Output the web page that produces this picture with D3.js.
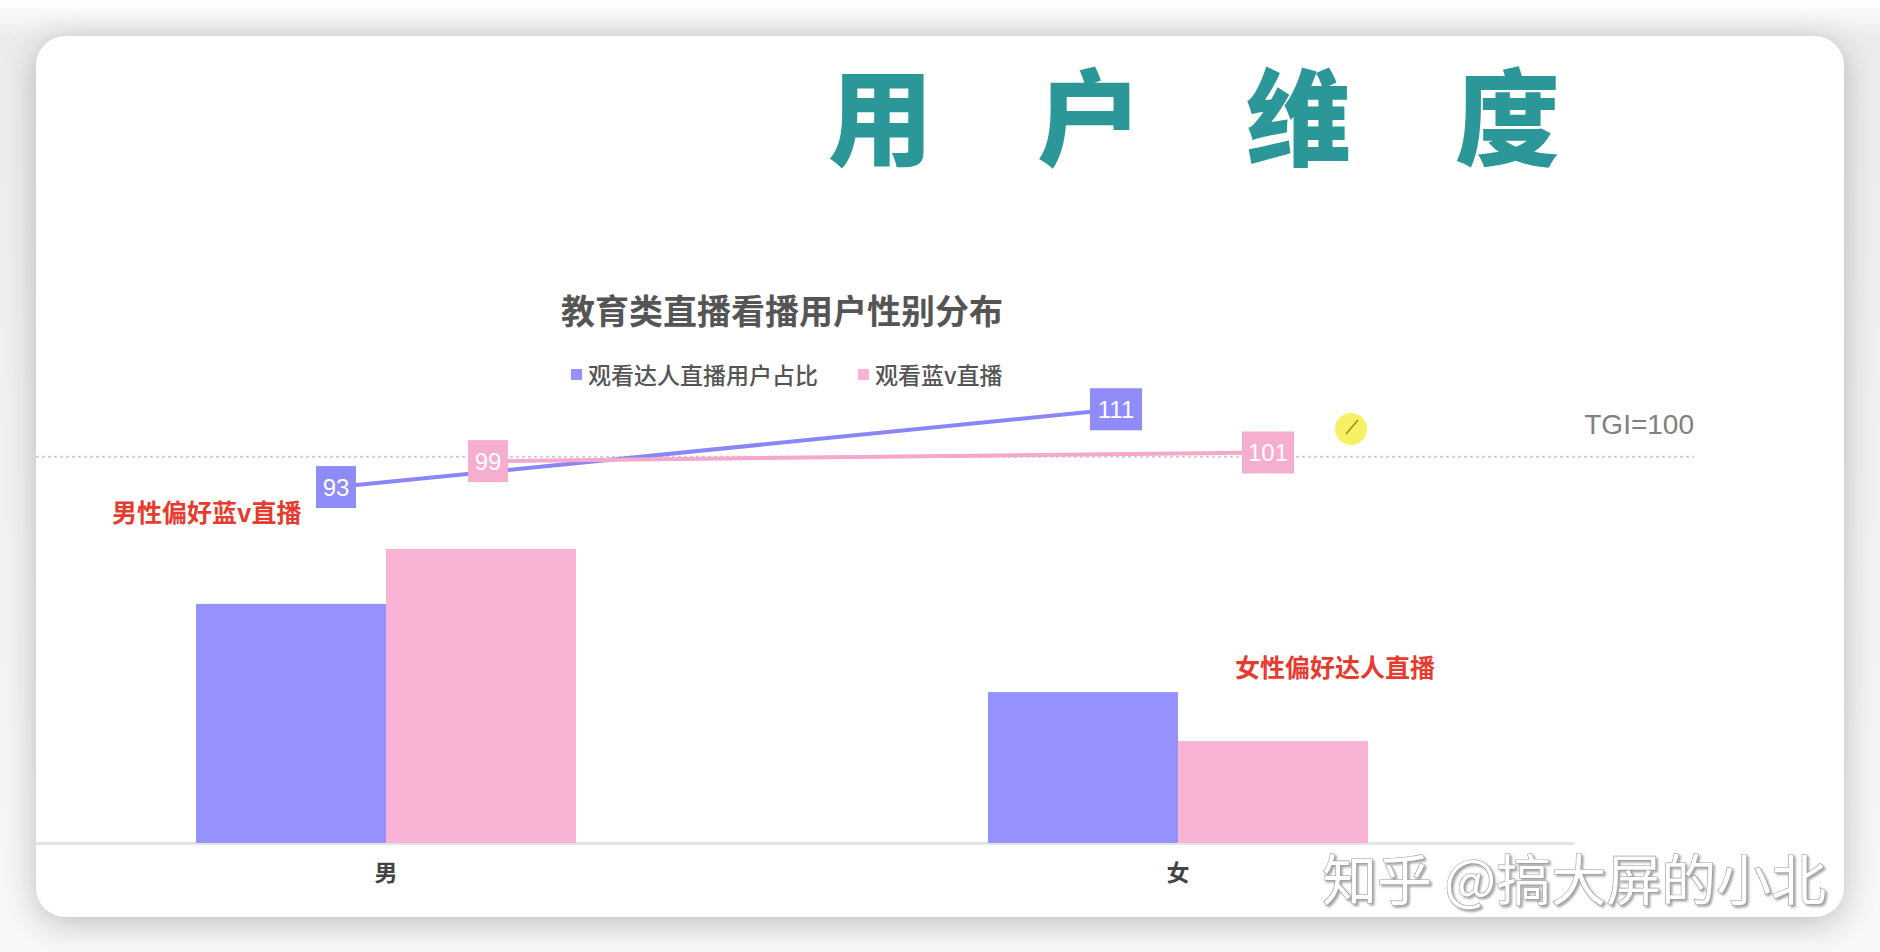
<!DOCTYPE html>
<html><head><meta charset="utf-8">
<script src="https://cdn.jsdelivr.net/npm/d3@7"></script>
<style>
html,body{margin:0;padding:0;background:#f6f6f6;}
svg{display:block;}
</style></head>
<body>
<svg id="c" width="1880" height="952"></svg>
<script>
const categories = ["男", "女"];
const seriesNames = ["观看达人直播用户占比", "观看蓝v直播"];
const shareDaren = [61, 38.5];   // bar values (%)
const shareLanv = [75, 26];
const tgiDaren = [93, 111];      // line values (TGI)
const tgiLanv = [99, 101];
const tgiRef = 100;
const colors = ["#9592fd", "#f8b3d5"];
const boxColors = ["#8f8bf8", "#f5aecf"];
const lineColors = ["#8a86f4", "#f2a9cb"];

const svg = d3.select("#c");
const font = "'Noto Sans CJK SC','Noto Sans',sans-serif";

// background + card
const defs = svg.append("defs");
const f = defs.append("filter").attr("id","sh").attr("x","-10%").attr("y","-10%").attr("width","120%").attr("height","120%");
f.append("feDropShadow").attr("dx",0).attr("dy",6).attr("stdDeviation",16).attr("flood-color","#000").attr("flood-opacity",0.24);
const bg = defs.append("linearGradient").attr("id","bg").attr("x1",0).attr("y1",0).attr("x2",0).attr("y2",1);
bg.append("stop").attr("offset","0").attr("stop-color","#ffffff");
bg.append("stop").attr("offset","0.04").attr("stop-color","#ececec");
bg.append("stop").attr("offset","1").attr("stop-color","#f8f8f8");
svg.append("rect").attr("width",1880).attr("height",952).attr("fill","url(#bg)");
const card = {x:36, y:36, w:1808, h:881, r:30};
svg.append("rect").attr("x",card.x).attr("y",card.y).attr("width",card.w).attr("height",card.h)
  .attr("rx",card.r).attr("fill","#fff").attr("filter","url(#sh)");
defs.append("clipPath").attr("id","cardclip").append("rect")
  .attr("x",card.x).attr("y",card.y).attr("width",card.w).attr("height",card.h).attr("rx",card.r);

const g = svg.append("g").attr("clip-path","url(#cardclip)");

// big title
g.append("text").attr("x",828).attr("y",157)
  .attr("font-family",font).attr("font-weight",900).attr("font-size",105)
  .attr("letter-spacing",104).attr("fill","#2b9798").text("用户维度");

// chart title
g.append("text").attr("x",782).attr("y",324).attr("text-anchor","middle")
  .attr("font-family",font).attr("font-weight",700).attr("font-size",34)
  .attr("fill","#555").text("教育类直播看播用户性别分布");

// legend
const legX = [571, 858];
seriesNames.forEach((n,i)=>{
  g.append("rect").attr("x",legX[i]).attr("y",369).attr("width",11).attr("height",11).attr("fill",colors[i]);
  g.append("text").attr("x",legX[i]+17).attr("y",384).attr("font-family",font).attr("font-weight",500)
    .attr("font-size",23).attr("fill","#555").text(n);
});

// scales
const baseY = 843;
const x = d3.scaleBand().domain(categories).range([-10, 1574]).paddingInner(0).paddingOuter(0);
const xs = d3.scaleBand().domain(seriesNames).range([0, 380]);
const xLine = d3.scaleBand().domain(categories).range([-4, 1556]);
const y = d3.scaleLinear().domain([0, 100]).range([baseY, baseY - 392]);
const yT = d3.scaleLinear().domain([90, 115]).range([500, 392]);

// axis
const axis = g.append("g").attr("transform",`translate(0,${baseY})`)
  .call(d3.axisBottom(x).tickSize(0).tickPadding(22));
axis.select(".domain").attr("stroke","#e4e4e4").attr("stroke-width",3);
axis.selectAll(".tick text").attr("font-family",font).attr("font-weight",700)
  .attr("font-size",23).attr("fill","#444");

// bars
const barData = [shareDaren, shareLanv];
barData.forEach((vals,si)=>{
  g.append("g").selectAll("rect").data(categories).join("rect")
    .attr("x",c=>x(c)+x.bandwidth()/2-190+xs(seriesNames[si]))
    .attr("width",xs.bandwidth())
    .attr("y",(c,i)=>y(vals[i]))
    .attr("height",(c,i)=>y(0)-y(vals[i]))
    .attr("fill",colors[si]);
});

// TGI reference line
g.append("line").attr("x1",36).attr("x2",1694).attr("y1",yT(tgiRef)).attr("y2",yT(tgiRef))
  .attr("stroke","#cfcfcf").attr("stroke-width",2).attr("stroke-dasharray","3,3");
g.append("text").attr("x",1694).attr("y",434).attr("text-anchor","end")
  .attr("font-family","'Liberation Sans',Arial,sans-serif").attr("font-size",28).attr("fill","#808080").text("TGI=100");

// lines + labels
const lineData = [tgiDaren, tgiLanv];
const offs = [-50, 102];
lineData.forEach((vals,si)=>{
  const pts = categories.map((c,i)=>({x:xLine(c)+xLine.bandwidth()/2+offs[si], y:yT(vals[i]), v:vals[i]}));
  g.append("path").datum(pts).attr("fill","none").attr("stroke",lineColors[si]).attr("stroke-width",4)
    .attr("d",d3.line().x(d=>d.x).y(d=>d.y));
  const lg = g.append("g").selectAll("g").data(pts).join("g").attr("transform",d=>`translate(${d.x},${d.y})`);
  lg.append("rect").attr("x",d=>-(String(d.v).length>2?26:20)).attr("y",-21)
    .attr("width",d=>String(d.v).length>2?52:40).attr("height",42).attr("fill",boxColors[si]);
  lg.append("text").attr("text-anchor","middle").attr("y",9)
    .attr("font-family","'Liberation Sans',Arial,sans-serif").attr("font-size",24).attr("fill","#fff").text(d=>d.v);
});

// annotations
g.append("text").attr("x",112).attr("y",522).attr("font-family",font).attr("font-weight",700)
  .attr("font-size",25).attr("fill","#e63b2e").text("男性偏好蓝v直播");
g.append("text").attr("x",1235).attr("y",677).attr("font-family",font).attr("font-weight",700)
  .attr("font-size",25).attr("fill","#e63b2e").text("女性偏好达人直播");

// cursor highlight
g.append("circle").attr("cx",1351).attr("cy",429).attr("r",16).attr("fill","#f6ee52").attr("opacity",0.9);
g.append("line").attr("x1",1346).attr("y1",434).attr("x2",1358).attr("y2",420).attr("stroke","#a08a20").attr("stroke-width",1.5);

// watermark
svg.append("text").attr("x",1322).attr("y",900).attr("font-family",font).attr("font-size",55)
  .attr("fill","#fff").attr("stroke","#9a9a9a").attr("stroke-width",1.2).attr("paint-order","stroke")
  .style("filter","drop-shadow(2px 2px 1px rgba(0,0,0,0.35))").text("知乎 @搞大屏的小北");
</script>
</body></html>
